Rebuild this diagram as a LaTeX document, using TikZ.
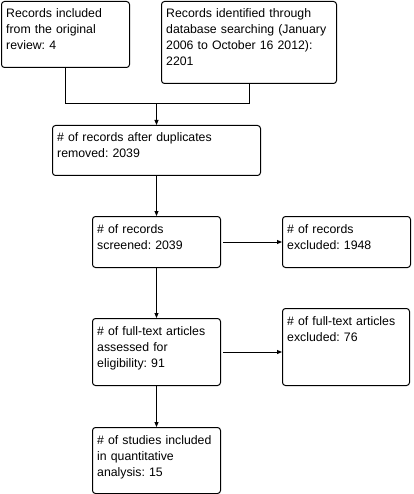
\documentclass[tikz,border=0pt]{standalone}
\usepackage{fontspec}
\setmainfont{Liberation Sans}
\usetikzlibrary{arrows.meta}
\frenchspacing

\begin{document}
\begin{tikzpicture}[x=1pt, y=-1pt,
	box/.style={draw, line width=1pt, rounded corners=3pt, anchor=north west, inner sep=0pt},
	txt/.style={anchor=base west, inner sep=0pt, text width=200pt, align=left, font=\fontsize{12.3}{16}\selectfont},
	arr/.style={-{Triangle[length=5pt,width=4pt]}, line width=1pt}]
	\useasboundingbox (0,0) rectangle (413,494);

	% boxes
	\node[box, minimum width=128pt, minimum height=66pt] (orig) at (1,1) {};
	\node[box, minimum width=175pt, minimum height=82pt] (db) at (161,1) {};
	\node[box, minimum width=208pt, minimum height=50pt] (dup) at (52,125) {};
	\node[box, minimum width=128pt, minimum height=51pt] (screen) at (92,216) {};
	\node[box, minimum width=128pt, minimum height=51pt] (excl) at (282,216) {};
	\node[box, minimum width=128pt, minimum height=67pt] (full) at (92,318) {};
	\node[box, minimum width=127pt, minimum height=77pt] (fullex) at (282,308) {};
	\node[box, minimum width=128pt, minimum height=66pt] (incl) at (92,427) {};

	% texts
	\node[txt] (origT) at ([xshift=5pt,yshift=-17pt]orig.north west) {Records included\\from the original\\review: 4};
	\node[txt] (dbT) at ([xshift=5pt,yshift=-17pt]db.north west) {Records identified through\\database searching (January\\2006 to October 16 2012):\\2201};
	\node[txt] (dupT) at ([xshift=5pt,yshift=-17pt]dup.north west) {\# of records after duplicates\\removed: 2039};
	\node[txt] (screenT) at ([xshift=5pt,yshift=-17pt]screen.north west) {\# of records\\screened: 2039};
	\node[txt] (exclT) at ([xshift=5pt,yshift=-17pt]excl.north west) {\# of records\\excluded: 1948};
	\node[txt] (fullT) at ([xshift=5pt,yshift=-17pt]full.north west) {\# of full-text articles\\assessed for\\eligibility: 91};
	\node[txt] (fullexT) at ([xshift=5pt,yshift=-17pt]fullex.north west) {\# of full-text articles\\excluded: 76};
	\node[txt] (inclT) at ([xshift=5pt,yshift=-17pt]incl.north west) {\# of studies included\\in quantitative\\analysis: 15};

	% connectors
	\coordinate (merge) at (dup.north |- 0,104);
	\draw[line width=1pt] (orig.south) |- (merge);
	\draw[line width=1pt] (db.south) |- (merge);
	\draw[arr] (merge) -- (dup.north);
	\draw[arr] (dup.south) -- (screen.north);
	\draw[arr] (screen.south) -- (full.north);
	\draw[arr] (full.south) -- (incl.north);
	\draw[arr, shorten <=2pt] (screen.east) -- (excl.west);
	\draw[arr, shorten <=2pt] (full.east) -- (full.east -| fullex.west);
\end{tikzpicture}
\end{document}
